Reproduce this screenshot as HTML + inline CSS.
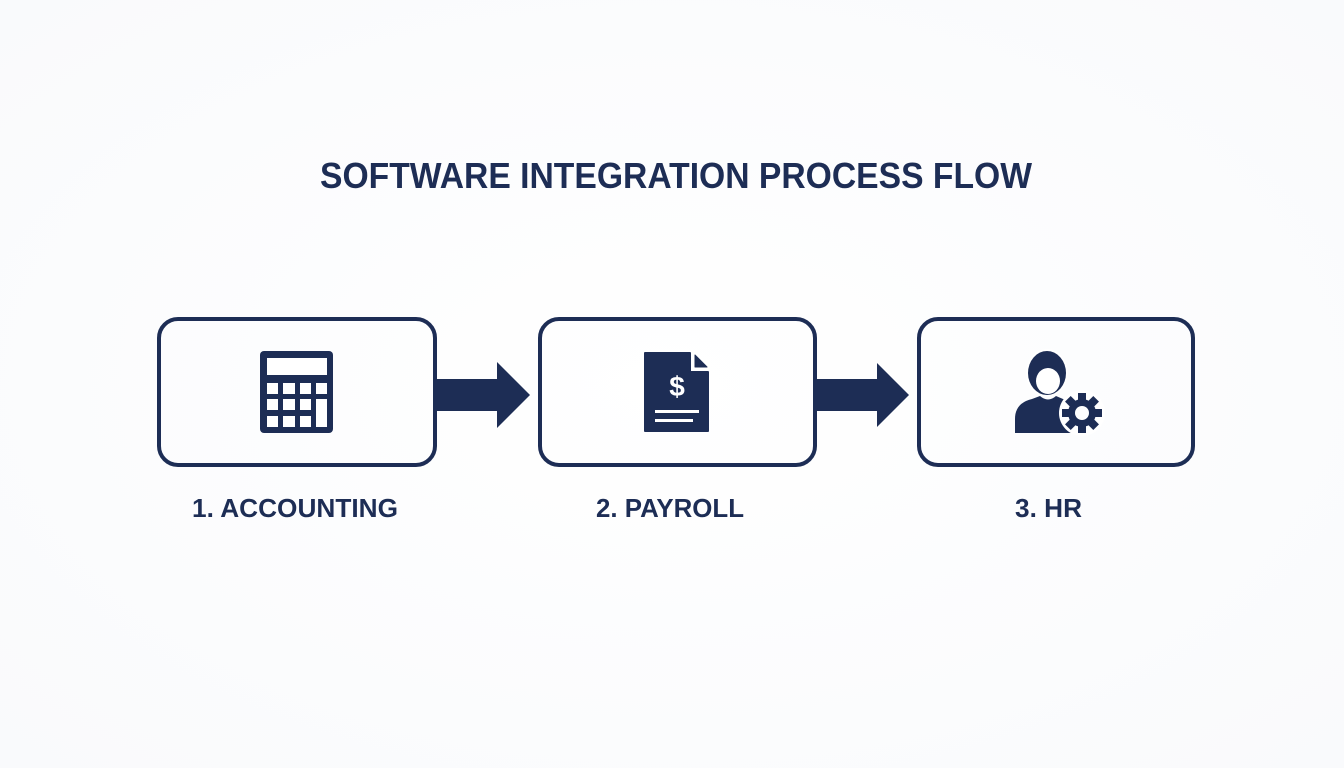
<!DOCTYPE html>
<html>
<head>
<meta charset="utf-8">
<style>
html,body{margin:0;padding:0;background:#fdfdfe;}
svg{display:block;}
text{font-family:"Liberation Sans",sans-serif;font-weight:bold;fill:#1d2d55;}
</style>
</head>
<body>
<svg width="1344" height="768" viewBox="0 0 1344 768" xmlns="http://www.w3.org/2000/svg">
<defs>
<radialGradient id="bg" cx="50%" cy="50%" r="70%">
<stop offset="0%" stop-color="#ffffff"/>
<stop offset="100%" stop-color="#f9fafc"/>
</radialGradient>
</defs>
<rect width="1344" height="768" fill="url(#bg)"/>

<text x="320" y="188" font-size="36" textLength="712" lengthAdjust="spacingAndGlyphs">SOFTWARE INTEGRATION PROCESS FLOW</text>

<g fill="none" stroke="#1d2d55" stroke-width="4">
<rect x="159" y="319" width="276" height="146" rx="19"/>
<rect x="540" y="319" width="275" height="146" rx="19"/>
<rect x="919" y="319" width="274" height="146" rx="19"/>
</g>

<g fill="#1d2d55">
<polygon points="437,379 497,379 497,362 530,395 497,428 497,411 437,411"/>
<polygon points="817,379 877,379 877,363 909,395 877,427 877,411 817,411"/>
</g>

<!-- calculator -->
<rect x="260" y="351" width="73" height="82" rx="4" fill="#1d2d55"/>
<g fill="#fff">
<rect x="267" y="358" width="60" height="17"/>
<rect x="267" y="383" width="11" height="11"/>
<rect x="283" y="383" width="12" height="11"/>
<rect x="300" y="383" width="11" height="11"/>
<rect x="316" y="383" width="11" height="11"/>
<rect x="267" y="399" width="11" height="11"/>
<rect x="283" y="399" width="12" height="11"/>
<rect x="300" y="399" width="11" height="11"/>
<rect x="316" y="399" width="11" height="28"/>
<rect x="267" y="416" width="11" height="11"/>
<rect x="283" y="416" width="12" height="11"/>
<rect x="300" y="416" width="11" height="11"/>
</g>

<!-- document -->
<polygon points="645,353 690,353 690,372 708,372 708,431 645,431" fill="#1d2d55" stroke="#1d2d55" stroke-width="2" stroke-linejoin="round"/>
<polygon points="695,355 707,367 695,367" fill="#1d2d55" stroke="#1d2d55" stroke-width="1" stroke-linejoin="round"/>
<text x="677" y="396" font-size="28" text-anchor="middle" style="fill:#fff">$</text>
<rect x="655" y="410" width="44" height="3" fill="#fff"/>
<rect x="655" y="419" width="38" height="3" fill="#fff"/>

<!-- person -->
<path d="M1015,433 V419 Q1015,403 1032,399 L1040,396 Q1048,403 1056,396 L1063,399 Q1076,403 1079,414 V433 Z" fill="#1d2d55"/>
<ellipse cx="1047" cy="373" rx="21" ry="24" fill="#fff"/>
<ellipse cx="1047" cy="373" rx="19" ry="22" fill="#1d2d55"/>
<ellipse cx="1048" cy="381" rx="12" ry="13" fill="#fff"/>
<path d="M1034,379 Q1037,369 1047,368 Q1056,367 1060,362 L1060,360 L1034,360 Z" fill="#1d2d55"/>
<!-- gear -->
<circle cx="1082" cy="413" r="23" fill="#fff"/>
<g fill="#1d2d55" transform="translate(1082,413)">
<circle r="14"/>
<rect x="-4" y="-20" width="8" height="8"/>
<rect x="-4" y="-20" width="8" height="8" transform="rotate(45)"/>
<rect x="-4" y="-20" width="8" height="8" transform="rotate(90)"/>
<rect x="-4" y="-20" width="8" height="8" transform="rotate(135)"/>
<rect x="-4" y="-20" width="8" height="8" transform="rotate(180)"/>
<rect x="-4" y="-20" width="8" height="8" transform="rotate(225)"/>
<rect x="-4" y="-20" width="8" height="8" transform="rotate(270)"/>
<rect x="-4" y="-20" width="8" height="8" transform="rotate(315)"/>
<circle r="7" fill="#fff"/>
</g>

<text x="192" y="517" font-size="26" textLength="206" lengthAdjust="spacingAndGlyphs">1. ACCOUNTING</text>
<text x="596" y="517" font-size="26" textLength="148" lengthAdjust="spacingAndGlyphs">2. PAYROLL</text>
<text x="1015" y="517" font-size="26" textLength="67" lengthAdjust="spacingAndGlyphs">3. HR</text>
</svg>
</body>
</html>
